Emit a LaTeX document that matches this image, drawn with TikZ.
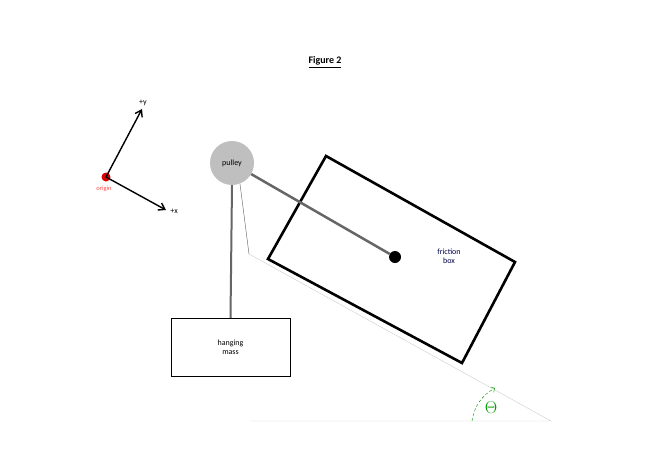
\documentclass[tikz,border=0pt]{standalone}
\usepackage{fontspec}
\setmainfont{Carlito}
\usetikzlibrary{arrows.meta}
\begin{document}
\begin{tikzpicture}[x=1pt,y=-1pt,
  lbl/.style={font=\fontsize{8}{9}\selectfont, align=center, inner sep=0pt},
  axis/.style={line width=1.4pt,-{Straight Barb[length=6pt,width=8pt]}}]
\useasboundingbox (0,0) rectangle (651,466);
\node[font=\bfseries\fontsize{10}{11}\selectfont] (title) at (325,62) {\underline{Figure 2}};
% axes
\fill[red!85!black] (106,177) circle (4.5);
\coordinate (o) at (106,177);
\coordinate (yend) at (142,109);
\coordinate (xend) at (166,210);
\draw[axis] (o) -- (yend);
\draw[axis] (o) -- (xend);
\node[lbl,text=red!70,font=\fontsize{6.5}{7}\selectfont] (orig) at (104,189) {origin};
\node[lbl] (py) at (143,103) {+y};
\node[lbl] (px) at (174,211) {+x};
% incline
\coordinate (top) at (249,254);
\coordinate (tip) at (551,421);
\coordinate (gl) at (250,421);
\draw[gray!40] (top) -- (tip) -- (gl);
% friction box
\draw[line width=2.6pt, line join=miter] (326,156) -- (515,262) -- (462,363) -- (268,259) -- cycle;
\node[lbl,text=blue!30!black] (fb) at (449,256) {friction\\box};
% pulley
\node[circle, fill=gray!50, minimum size=44pt, inner sep=0pt, font=\fontsize{8}{9}\selectfont] (pulley) at (232,163) {pulley};
\node[circle, fill=black, minimum size=12pt, inner sep=0pt] (dot) at (395,257) {};
\draw[gray!80!black, line width=2.5pt] (pulley) -- (dot);
% hanging mass
\node[draw, minimum width=119pt, minimum height=58pt, lbl, font=\fontsize{8}{9}\selectfont] (mass) at (230.5,347) {hanging\\mass};
\draw[gray!80!black, line width=2pt] (pulley.south) -- (mass.north);
\draw[gray!70!black, thin] (240,184) -- (top);
% angle
\draw[green!60!black, densely dashed, -{Straight Barb[length=3pt]}] (472,421) to[bend left=25] (495,388);
\node[text=green!60!black, font=\fontsize{16}{17}\selectfont] (theta) at (491,408) {$\Theta$};
\end{tikzpicture}
\end{document}
